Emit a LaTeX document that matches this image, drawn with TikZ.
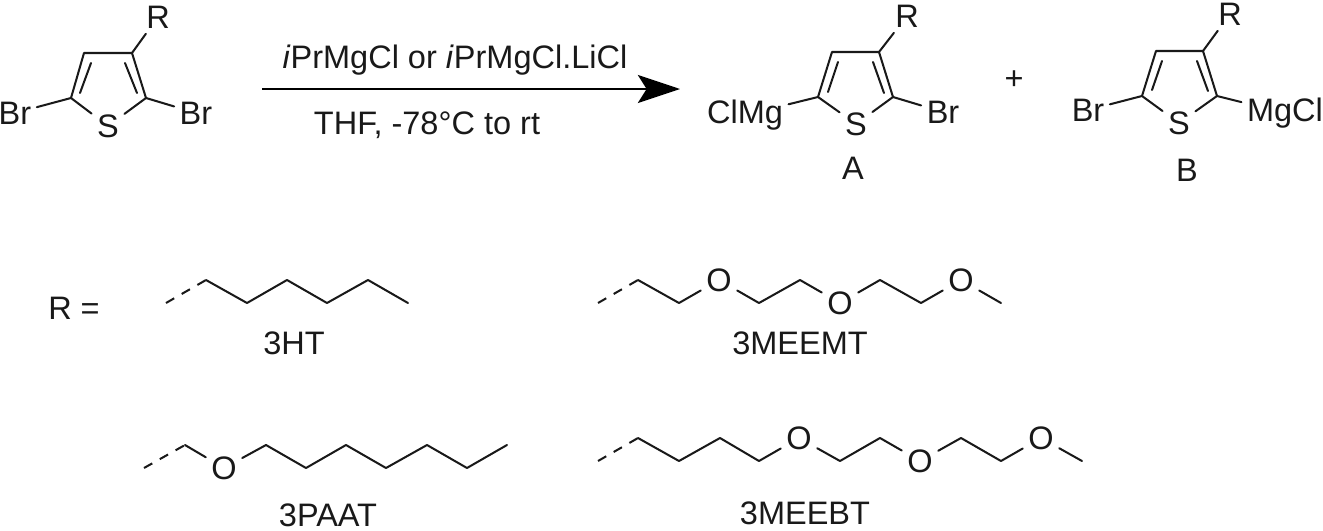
\documentclass[tikz,border=0pt]{standalone}
\usepackage{fontspec}
\setmainfont{Liberation Sans}
\usepackage{tkz-euclide}
\usetikzlibrary{calc,arrows.meta}
\tikzset{
  bond/.style={line width=1.15pt,line cap=round,line join=round,black!90},
  wavy bond/.style={bond,line cap=butt,dash pattern=on 5.4pt off 4.9pt},
  atom/.style={inner sep=3pt,font=\fontsize{18.5}{22}\selectfont,text=black!90},
  tag/.style={inner sep=0pt,font=\fontsize{18.5}{22}\selectfont,text=black!90}
}

\begin{document}
\begin{tikzpicture}[x=0.02cm,y=-0.02cm]
            \useasboundingbox (0,0) rectangle (1323,531);
            % starting thiophene
            \tkzDefPoint(84,53){sa}
            \tkzDefPoint(132,53){sb}
            \tkzDefPoint(71,98){sc}
            \tkzDefPoint(146,98){sd}
            \tkzDefPoint(91,63){sci}
            \tkzDefPoint(80,93){scj}
            \tkzDefPoint(125,63){sdi}
            \tkzDefPoint(137,93){sdj}
            \node[atom] (Ss) at (108,126) {S};
            \node[atom] (Rs) at (158,17) {R};
            \node[atom] (Brsl) at (15,113) {Br};
            \node[atom] (Brsr) at (196,113) {Br};
            \draw[bond] (sc) -- (sa) -- (sb) -- (sd);
            \draw[bond] (Ss) -- (sc) -- (Brsl);
            \draw[bond] (Ss) -- (sd) -- (Brsr);
            \draw[bond] (sb) -- (Rs);
            \tkzDrawSegments[bond](sci,scj sdi,sdj)
            % arrow and conditions
            \tkzDefPoint(262,89){ra}
            \tkzDefPoint(680,89){rb}
            \draw[line width=1.2pt,-{Stealth[length=24pt,width=16pt,inset=5pt]}] (ra) -- (rb);
            \node[tag] (cond1) at (455,60) {\textit{i}PrMgCl or \textit{i}PrMgCl.LiCl};
            \node[tag] (cond2) at (427,125) {THF, -78°C to rt};
            % product A
            \tkzDefPoint(832,52){aa}
            \tkzDefPoint(879,52){ab}
            \tkzDefPoint(818,97){ac}
            \tkzDefPoint(893,97){ad}
            \tkzDefPoint(838,62){aci}
            \tkzDefPoint(828,92){acj}
            \tkzDefPoint(873,62){adi}
            \tkzDefPoint(884,93){adj}
            \node[atom] (Sa) at (856,124) {S};
            \node[atom] (Ra) at (907,16) {R};
            \node[atom] (Mga) at (745,115) {ClMg};
            \node[atom] (Bra) at (943,112) {Br};
            \node[tag] (tagA) at (853,168) {A};
            \draw[bond] (ac) -- (aa) -- (ab) -- (ad);
            \draw[bond] (Sa) -- (ac) -- (Mga);
            \draw[bond] (Sa) -- (ad) -- (Bra);
            \draw[bond] (ab) -- (Ra);
            \tkzDrawSegments[bond](aci,acj adi,adj)
            \node[tag] (plus) at (1014,80) {+};
            % product B
            \tkzDefPoint(1156,51){ba}
            \tkzDefPoint(1203,51){bb}
            \tkzDefPoint(1142,96){bc}
            \tkzDefPoint(1217,96){bd}
            \tkzDefPoint(1162,61){bci}
            \tkzDefPoint(1152,90){bcj}
            \tkzDefPoint(1197,61){bdi}
            \tkzDefPoint(1208,91){bdj}
            \node[atom] (Sb) at (1179,123) {S};
            \node[atom] (Rb) at (1230,14) {R};
            \node[atom] (Brb) at (1088,110) {Br};
            \node[atom] (Mgb) at (1285,113) {MgCl};
            \node[tag] (tagB) at (1187,170) {B};
            \draw[bond] (bc) -- (ba) -- (bb) -- (bd);
            \draw[bond] (Sb) -- (bc) -- (Brb);
            \draw[bond] (Sb) -- (bd) -- (Mgb);
            \draw[bond] (bb) -- (Rb);
            \tkzDrawSegments[bond](bci,bcj bdi,bdj)
            % side chains
            \node[tag] (Req) at (74,308) {R =};
            % 3HT
            \tkzDefPoint(166,303){ha}
            \tkzDefPoint(206,280){hb}
            \tkzDefPoint(247,303){hc}
            \tkzDefPoint(287,280){hd}
            \tkzDefPoint(327,303){he}
            \tkzDefPoint(368,280){hf}
            \tkzDefPoint(408,303){hg}
            \tkzDrawSegment[wavy bond](ha,hb)
            \tkzDrawPolySeg[bond](hb,hc,hd,he,hf,hg)
            \node[tag] (tagHT) at (294,343) {3HT};
            % 3PAAT
            \tkzDefPoint(144,468){pa}
            \tkzDefPoint(185,445){pb}
            \node[atom] (Op) at (224,468) {O};
            \tkzDefPoint(266,445){pc}
            \tkzDefPoint(306,468){pd}
            \tkzDefPoint(346,445){pe}
            \tkzDefPoint(386,468){pf}
            \tkzDefPoint(427,445){pg}
            \tkzDefPoint(467,468){ph}
            \tkzDefPoint(507,445){pi}
            \tkzDrawSegment[wavy bond](pa,pb)
            \draw[bond] (pb) -- (Op) -- (pc);
            \tkzDrawPolySeg[bond](pc,pd,pe,pf,pg,ph,pi)
            \node[tag] (tagPA) at (328,515) {3PAAT};
            % 3MEEMT
            \tkzDefPoint(598,303){ma}
            \tkzDefPoint(638,280){mb}
            \tkzDefPoint(679,303){mc}
            \node[atom] (Om1) at (719,280) {O};
            \tkzDefPoint(759,303){md}
            \tkzDefPoint(800,280){me}
            \node[atom] (Om2) at (840,303) {O};
            \tkzDefPoint(880,280){mf}
            \tkzDefPoint(921,303){mg}
            \node[atom] (Om3) at (961,280) {O};
            \tkzDefPoint(1001,303){mh}
            \tkzDrawSegment[wavy bond](ma,mb)
            \draw[bond] (mb) -- (mc) -- (Om1) -- (md) -- (me) -- (Om2) -- (mf) -- (mg) -- (Om3) -- (mh);
            \node[tag] (tagMM) at (800,343) {3MEEMT};
            % 3MEEBT
            \tkzDefPoint(598,461){ea}
            \tkzDefPoint(638,438){eb}
            \tkzDefPoint(679,461){ec}
            \tkzDefPoint(720,438){ed}
            \tkzDefPoint(759,461){ee}
            \node[atom] (Oe1) at (799,438) {O};
            \tkzDefPoint(840,461){ef}
            \tkzDefPoint(880,438){eg}
            \node[atom] (Oe2) at (920,461) {O};
            \tkzDefPoint(961,438){eh}
            \tkzDefPoint(1001,461){ei}
            \node[atom] (Oe3) at (1041,438) {O};
            \tkzDefPoint(1082,461){ej}
            \tkzDrawSegment[wavy bond](ea,eb)
            \draw[bond] (eb) -- (ec) -- (ed) -- (ee) -- (Oe1) -- (ef) -- (eg) -- (Oe2) -- (eh) -- (ei) -- (Oe3) -- (ej);
            \node[tag] (tagMB) at (805,513) {3MEEBT};
            \end{tikzpicture}
\end{document}
